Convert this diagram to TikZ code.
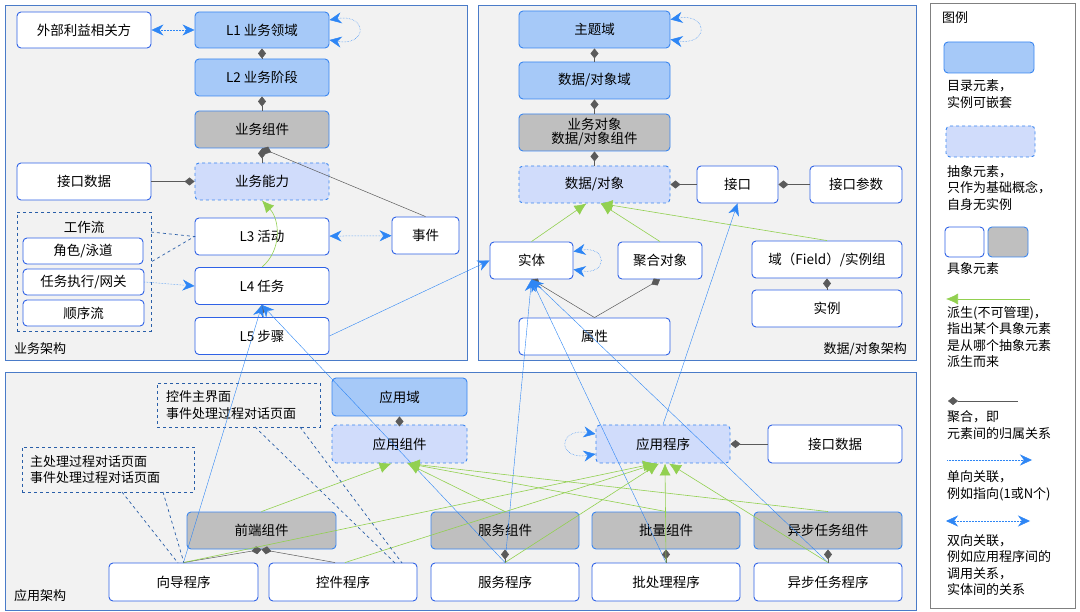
\documentclass[tikz,border=0pt]{standalone}
\usepackage{fontspec}
\setmainfont{Noto Sans CJK SC}
\usetikzlibrary{arrows.meta}
\definecolor{bord}{HTML}{2F62E6}
\definecolor{blueF}{HTML}{A6C9F8}
\definecolor{absF}{HTML}{D0DCFB}
\definecolor{absB}{HTML}{3A86F0}
\definecolor{grayF}{HTML}{BFBFBF}
\definecolor{panel}{HTML}{F2F2F2}
\definecolor{panelB}{HTML}{4A7BC8}
\definecolor{arr}{HTML}{2E86F5}
\definecolor{grn}{HTML}{92D050}
\definecolor{dg}{HTML}{5A5A5A}
\begin{document}
\begin{tikzpicture}[x=1pt,y=-1pt,
  every node/.style={font=\fontsize{13.5}{16}\selectfont},
  box/.style={draw=bord,line width=0.9pt,rounded corners=4pt,fill=white,inner sep=0pt,align=center},
  blu/.style={box,fill=blueF,draw=absB},
  abs/.style={box,fill=absF,draw=absB,dashed},
  gry/.style={box,fill=grayF,draw=absB},
  agg/.style={draw=dg,line width=0.5pt,{Diamond[fill=dg,length=10pt,width=8pt]}-},
  one/.style={draw=arr,densely dotted,line width=0.5pt,-{Stealth[length=12pt,width=11pt]}},
  thin/.style={draw=arr,line width=0.4pt,-{Stealth[length=12pt,width=11pt]}},
  bi/.style={draw=arr,densely dotted,line width=0.5pt,{Stealth[length=12pt,width=11pt]}-{Stealth[length=12pt,width=11pt]}},
  der/.style={draw=grn,line width=0.6pt,-{Latex[length=12pt,width=11pt]}},
  call/.style={draw=absB!70!black,dashed,line width=0.7pt},
  lbl/.style={font=\fontsize{13}{16.5}\selectfont,anchor=west,inner sep=0pt,align=left}]
\useasboundingbox (0,0) rectangle (1080,612);
% panels
\draw[panelB,fill=panel,line width=0.8pt] (5,5) rectangle (467,360);
\draw[panelB,fill=panel,line width=0.8pt] (478,5) rectangle (916,360);
\draw[panelB,fill=panel,line width=0.8pt] (5,372) rectangle (916,610);
\draw[gray,fill=white,line width=0.6pt] (930,3) rectangle (1075,608);
\node[lbl] (t1) at (14,349) {业务架构};
\node[lbl,anchor=east] (t2) at (907,349) {数据/对象架构};
\node[lbl] (t3) at (14,596) {应用架构};
% business
\node[box,minimum width=134,minimum height=36] (ext) at (84,30) {外部利益相关方};
\node[blu,minimum width=134,minimum height=36] (L1) at (262,30) {L1 业务领域};
\node[blu,minimum width=134,minimum height=37] (L2) at (262,77.5) {L2 业务阶段};
\node[gry,minimum width=134,minimum height=37] (bc) at (262,129.5) {业务组件};
\node[abs,minimum width=134,minimum height=37] (bcap) at (262,181.5) {业务能力};
\node[box,minimum width=134,minimum height=37] (ifd) at (84,181.5) {接口数据};
\node[box,minimum width=134,minimum height=37] (L3) at (262,236.5) {L3 活动};
\node[box,minimum width=67,minimum height=37] (evt) at (425.5,235.5) {事件};
\node[box,minimum width=134,minimum height=37] (L4) at (262,286) {L4 任务};
\node[box,minimum width=134,minimum height=37] (L5) at (262,336) {L5 步骤};
\node[call,minimum width=134,minimum height=119,inner sep=0pt] (wf) at (84,271.5) {};
\node[inner sep=0pt] (wft) at (84,227) {工作流};
\node[box,minimum width=120,minimum height=26] (role) at (83,251) {角色/泳道};
\node[box,minimum width=121,minimum height=26] (gw) at (83.5,282) {任务执行/网关};
\node[box,minimum width=121,minimum height=26] (seq) at (83.5,313) {顺序流};
\coordinate (wfa) at (151,232);
\coordinate (wfb) at (151,262);
% data
\node[blu,minimum width=151,minimum height=37] (topic) at (594.5,29.5) {主题域};
\node[blu,minimum width=151,minimum height=37] (dod) at (594.5,80.5) {数据/对象域};
\node[gry,minimum width=151,minimum height=37,font=\fontsize{13.5}{14}\selectfont] (bo) at (594.5,132.5) {业务对象\\数据/对象组件};
\node[abs,minimum width=151,minimum height=37] (do) at (594.5,184.5) {数据/对象};
\node[box,minimum width=81,minimum height=37] (itf) at (737.5,184.5) {接口};
\node[box,minimum width=92,minimum height=37] (itp) at (856,184.5) {接口参数};
\node[box,minimum width=83,minimum height=37] (ent) at (531.5,260.5) {实体};
\node[box,minimum width=84,minimum height=37] (ag) at (660,260.5) {聚合对象};
\node[box,minimum width=150,minimum height=37] (fld) at (827,259.5) {域（Field）/实例组};
\node[box,minimum width=150,minimum height=37] (inst) at (827,308.5) {实例};
\node[box,minimum width=151,minimum height=37] (attr) at (594.5,336.5) {属性};
% app
\node[blu,minimum width=135,minimum height=38] (ad) at (399.5,397) {应用域};
\node[abs,minimum width=135,minimum height=38] (ac) at (399.5,444) {应用组件};
\node[abs,minimum width=134,minimum height=38] (ap) at (663,444) {应用程序};
\node[box,minimum width=134,minimum height=38] (aifd) at (835,444) {接口数据};
\node[gry,minimum width=149,minimum height=37] (fe) at (261.5,530.5) {前端组件};
\node[gry,minimum width=148,minimum height=37] (sc) at (505,530.5) {服务组件};
\node[gry,minimum width=148,minimum height=37] (bcm) at (666,530.5) {批量组件};
\node[gry,minimum width=148,minimum height=37] (asc) at (828,530.5) {异步任务组件};
\node[box,minimum width=149,minimum height=38] (wiz) at (183.5,582) {向导程序};
\node[box,minimum width=148,minimum height=38] (ctl) at (343,582) {控件程序};
\node[box,minimum width=148,minimum height=38] (svp) at (505,582) {服务程序};
\node[box,minimum width=148,minimum height=38] (bp) at (666,582) {批处理程序};
\node[box,minimum width=148,minimum height=38] (asp) at (828,582) {异步任务程序};
\node[call,fill=panel,minimum width=163,minimum height=44,inner sep=0pt] (c1) at (238.5,405) {};
\node[lbl] (c1t) at (166,405) {控件主界面\\事件处理过程对话页面};
\node[call,fill=panel,minimum width=172,minimum height=45,inner sep=0pt] (c2) at (108,469.5) {};
\node[lbl] (c2t) at (30,469.5) {主处理过程对话页面\\事件处理过程对话页面};
\coordinate (c1a) at (255,427); \coordinate (c1b) at (300,427);
\coordinate (c2a) at (122,492); \coordinate (c2b) at (163,492);
\coordinate (ctlA) at (395,563); \coordinate (ctlB) at (402,563);
\coordinate (wizA) at (178,563); \coordinate (wizB) at (184,563);
% business edges
\draw[agg] (L1.south) -- (L2.north);
\draw[agg] (L2.south) -- (bc.north);
\draw[agg] (bc.south) -- (bcap.north);
\draw[agg] (bc.south) -- (evt.north);
\draw[agg] (bcap.west) -- (ifd.east);
\draw[agg] (L4.south) -- (L5.north);
\draw[bi] (ext) -- (L1);
\draw[bi] (L3) -- (evt);
\draw[bi] ([yshift=10pt]L1.east) to[out=10,in=-10,looseness=5] ([yshift=-10pt]L1.east);
\draw[one] (gw.east) -- (L4.west);
\draw[call] (wfa) -- (L3.west) -- (wfb);
\draw[der] (L4.north) .. controls (282,250) and (280,220) .. (bcap.south);
\draw[thin] (wiz.north) -- (L4.south);
\draw[thin] (svp.north) -- (L4.south);
\draw[thin] (L5.east) -- (ent.west);
% data edges
\draw[agg] (topic.south) -- (dod.north);
\draw[agg] (dod.south) -- (bo.north);
\draw[agg] (bo.south) -- (do.north);
\draw[agg] (do.east) -- (itf.west);
\draw[agg] (itf.east) -- (itp.west);
\draw[agg] (fld.south) -- (inst.north);
\draw[agg] (ent.south) -- (attr.north);
\draw[agg] (ag.south) -- (attr.north);
\draw[der] (ent.north) -- ([xshift=-8pt]do.south);
\draw[der] (ag.north) -- ([xshift=6pt]do.south);
\draw[der] (fld.north) -- ([xshift=6pt]do.south);
\draw[bi] ([yshift=10pt]topic.east) to[out=10,in=-10,looseness=5] ([yshift=-10pt]topic.east);
\draw[bi] ([yshift=9pt]ent.east) to[out=10,in=-10,looseness=5] ([yshift=-9pt]ent.east);
\draw[thin] (svp.north) -- (ent.south);
\draw[thin] (bp.north) -- (ent.south);
\draw[thin] (asp.north) -- (ent.south);
\draw[thin] (ap.north) -- (itf.south);
% app edges
\draw[agg] (ad.south) -- (ac.north);
\draw[agg] (ap.east) -- (aifd.west);
\draw[agg] (fe.south) -- (wiz.north);
\draw[agg] (fe.south) -- ([xshift=-8pt]ctl.north);
\draw[agg] (sc.south) -- (svp.north);
\draw[agg] (bcm.south) -- (bp.north);
\draw[agg] (asc.south) -- (asp.north);
\draw[bi] ([yshift=10pt]ap.west) to[out=170,in=190,looseness=5] ([yshift=-10pt]ap.west);
\draw[der] (fe.north) -- ([xshift=-8pt]ac.south);
\draw[der] (sc.north) -- ([xshift=8pt]ac.south);
\draw[der] (bcm.north) -- ([xshift=8pt]ac.south);
\draw[der] (asc.north) -- ([xshift=8pt]ac.south);
\draw[der] (wiz.north) -- ([xshift=-8pt]ap.south);
\draw[der] ([xshift=2pt]ctl.north) -- ([xshift=-6pt]ap.south);
\draw[der] (svp.north) -- ([xshift=-4pt]ap.south);
\draw[der] (bp.north) -- ([xshift=2pt]ap.south);
\draw[der] (asp.north) -- ([xshift=6pt]ap.south);
\draw[call] (c1a) -- (ctlA);
\draw[call] (c1b) -- (ctlB);
\draw[call] (c2a) -- (wizA);
\draw[call] (c2b) -- (wizB);
% legend
\node[lbl] (lg) at (942,18) {图例};
\node[blu,minimum width=90,minimum height=31] (lb1) at (989,57.5) {};
\node[lbl] (lt1) at (947,94) {目录元素，\\实例可嵌套};
\node[abs,minimum width=89,minimum height=31] (lb2) at (990.5,141.5) {};
\node[lbl] (lt2) at (947,188) {抽象元素，\\只作为基础概念，\\自身无实例};
\node[box,minimum width=39,minimum height=30] (lb3) at (964.5,242) {};
\node[gry,minimum width=40,minimum height=30] (lb4) at (1008,242) {};
\node[lbl] (lt3) at (947,269) {具象元素};
\coordinate (la1) at (1030,299); \coordinate (la2) at (946,299);
\draw[der] (la1) -- (la2);
\node[lbl] (lt4) at (947,337) {派生(不可管理)，\\指出某个具象元素\\是从哪个抽象元素\\派生而来};
\coordinate (lb1a) at (948,401); \coordinate (lb1b) at (1018,401);
\draw[agg] (lb1a) -- (lb1b);
\node[lbl] (lt5) at (947,425) {聚合，即\\元素间的归属关系};
\coordinate (lc1) at (947,460); \coordinate (lc2) at (1032,460);
\draw[one] (lc1) -- (lc2);
\node[lbl] (lt6) at (947,486) {单向关联，\\例如指向(1或N个)};
\coordinate (ld1) at (946,521); \coordinate (ld2) at (1030,521);
\draw[bi] (ld1) -- (ld2);
\node[lbl] (lt7) at (947,565) {双向关联，\\例如应用程序间的\\调用关系，\\实体间的关系};
\end{tikzpicture}
\end{document}
